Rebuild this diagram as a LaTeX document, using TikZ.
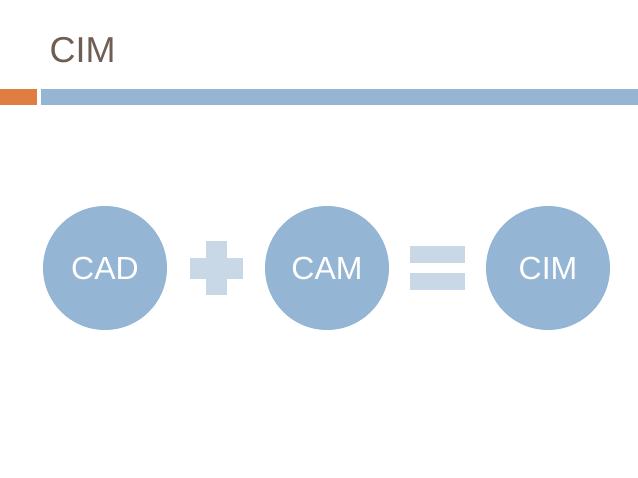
\documentclass[tikz,border=0pt]{standalone}
\usepackage{fontspec}
\setmainfont{Liberation Sans}
\definecolor{title_gray}{RGB}{110, 94, 84}
\definecolor{bar_orange}{RGB}{224, 125, 64}
\definecolor{bar_blue}{RGB}{149, 181, 210}
\definecolor{disk_blue}{RGB}{148, 181, 211}
\definecolor{sign_blue}{RGB}{200, 216, 230}
\tikzset{
  disk/.style={circle, fill=disk_blue, minimum size=124pt, inner sep=0pt,
    text=white, font=\fontsize{32}{36}\selectfont},
  sign/.style={fill=sign_blue}
}
\begin{document}
\begin{tikzpicture}[x=1pt, y=-1pt]
\useasboundingbox (0, 0) rectangle (638, 478);

\node[anchor=west, text=title_gray, font=\fontsize{36}{40}\selectfont] (title) at (46, 50) {CIM};

\fill[bar_orange] (0, 89) rectangle (37, 105);
\fill[bar_blue] (41, 89) rectangle (638, 105);

\node[disk] (cad) at (105, 268) {CAD};
\node[disk] (cam) at (327, 268) {CAM};
\node[disk] (cim) at (548, 268) {CIM};

% plus sign
\fill[sign] (206, 241) rectangle (227, 295);
\fill[sign] (190, 258) rectangle (243, 279);

% equals sign
\fill[sign] (410, 246) rectangle (465, 263);
\fill[sign] (410, 273) rectangle (465, 290);
\end{tikzpicture}
\end{document}
